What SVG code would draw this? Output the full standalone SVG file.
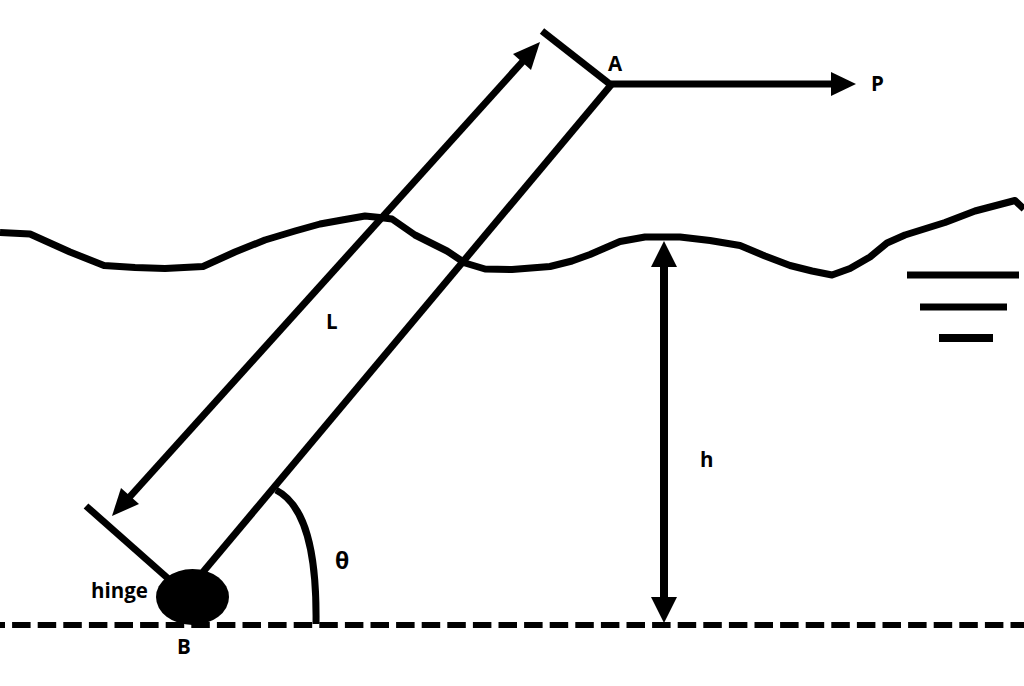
<svg xmlns="http://www.w3.org/2000/svg" width="1024" height="686" viewBox="0 0 1024 686">
<style>
.l{fill:none;stroke:#000;stroke-width:7}
.t{font-family:"Open Sans","Liberation Sans",sans-serif;font-weight:700;font-size:20.500px;fill:#000}
.h{fill:#000}
</style>
<rect width="1024" height="686" fill="#fff"/>
<g id="connectors">
<path class="l" stroke-linejoin="round" d="M0 232.500L30 234L50 243L70 252L104 265.500L135 267.500L165 268.500L203 266.500L235 252L265 240L295 231L320 224L345 219.500L365 216L380 217.500L392 219L415 235L447 251L465 263L485 269L512 269.500L550 266.500L572 261L590 254.500L620 241.500L645 237L680 237L710 240.500L740 245.500L765 256L790 265.500L812 271L832 275L850 268.500L870 257L887 243L905 235L945 222.500L975 211L1015 200.500L1024 209"/>
<path class="l" style="stroke-width:6" d="M0 625H1024" stroke-dasharray="18.500 7.100" stroke-dashoffset="13.500"/>
<path class="l" d="M203 572L611 85"/>
<path class="l" d="M611 85L542 31"/>
<path class="l" d="M611 84H835"/>
<path class="h" d="M831 72L856 84L831 96Z"/>
<path class="l" d="M126 501L525 59"/>
<path class="h" d="M540 42L531 70L513 54Z"/>
<path class="h" d="M112 516L121 488L139 504Z"/>
<path class="l" d="M86 506L172 582"/>
<path class="l" d="M664 262V602" style="stroke-width:8"/>
<path class="h" d="M664 241L677 267H651Z"/>
<path class="h" d="M664 623L651 597H677Z"/>
<path class="l" d="M276 490C305 505 317 550 316 624"/>
<path class="l" d="M907 275H1019"/>
<path class="l" d="M920 307H1007"/>
<path class="l" d="M939 338H993" style="stroke-width:8"/>
</g>
<g id="hinge"><ellipse cx="192.500" cy="597" rx="36.500" ry="28" fill="#000"/><text class="t" x="91" y="598">hinge</text></g>
<g id="A"><text class="t" x="608" y="71">A</text></g>
<g id="P"><text class="t" x="871" y="91">P</text></g>
<g id="L"><text class="t" x="326" y="329">L</text></g>
<g id="h"><text class="t" x="700" y="467">h</text></g>
<g id="theta"><text class="t" style="font-size:23px" x="335" y="569">θ</text></g>
<g id="B"><text class="t" x="177" y="654">B</text></g>
</svg>
